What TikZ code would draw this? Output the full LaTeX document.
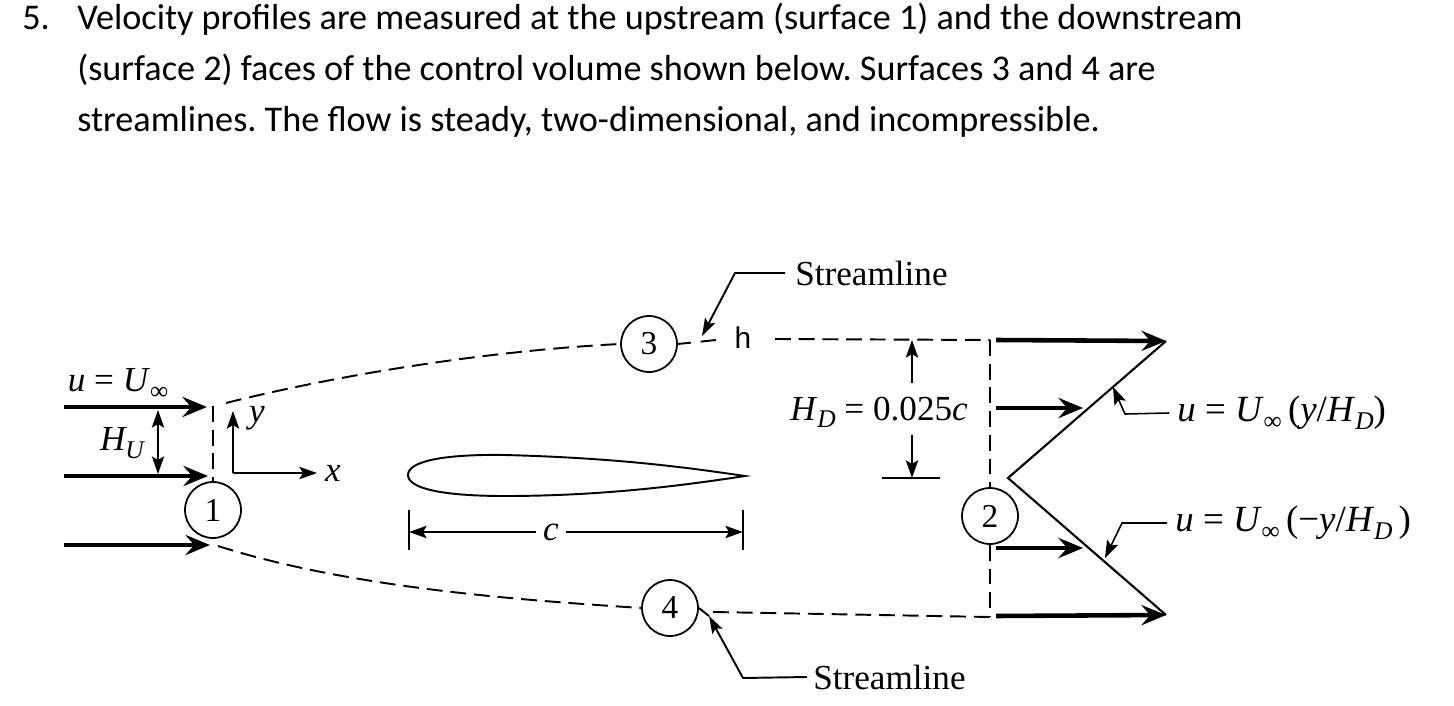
\documentclass[tikz,border=0pt]{standalone}
\usepackage{fontspec}
\setmainfont{Liberation Serif}
\newfontfamily\hd{Carlito}
\newfontfamily\hl{Liberation Sans}
\usetikzlibrary{arrows.meta}
\newcommand{\sbs}[1]{\raisebox{-0.45ex}{\fontsize{14.5}{16}\selectfont #1}}
\tikzset{
 x=0.02cm,y=-0.02cm,
 hdr/.style={anchor=base west,inner sep=0,font=\hd\frenchspacing\fontsize{20.6}{24}\selectfont},
 lab/.style={inner sep=0,font=\fontsize{20}{24}\selectfont},
 ilab/.style={inner sep=0,font=\itshape\fontsize{20}{24}\selectfont},
 flab/.style={inner sep=0,font=\fontsize{21}{24}\selectfont},
 num/.style={draw,circle,line width=1pt,minimum size=1.12cm,inner sep=0,font=\fontsize{19}{22}\selectfont,fill=white},
 thick arrow/.style={line width=2.6pt,-{Stealth[length=14pt,width=11.5pt,inset=5pt]}},
 mid arrow/.style={line width=2.2pt,-{Stealth[length=14pt,width=11.5pt,inset=5pt]}},
 thin arrow/.style={line width=1.1pt,-{Stealth[length=10pt,width=7pt,inset=2pt]}},
 dash line/.style={line width=1.1pt,dash pattern=on 9pt off 4.5pt},
 prof/.style={line width=1.2pt},
}
\begin{document}
\begin{tikzpicture}
\useasboundingbox (0,0) rectangle (1454,706);
\node[hdr] at (22,30) {5.};
\node[hdr] at (77,30) {Velocity profiles are measured at the upstream (surface 1) and the downstream};
\node[hdr] at (77,81) {(surface 2) faces of the control volume shown below. Surfaces 3 and 4 are};
\node[hdr] at (77,132) {streamlines. The flow is steady, two-dimensional, and incompressible.};
% numbered circles
\node[num] (n1) at (213,510) {1};
\node[num] (n2) at (990,516) {2};
\node[num] (n3) at (649,344) {3};
\node[num] (n4) at (670,608) {4};
% control points
\coordinate (c1t) at (213,406);
\coordinate (c1s) at (226,403);
\coordinate (c1b) at (218,546);
\coordinate (c2t) at (990,340);
\coordinate (c2b) at (990,617);
\coordinate (h1) at (775,339);
\coordinate (d4) at (713,612);
\coordinate (d3) at (716,340);
\coordinate (t3) at (702,336);
\coordinate (t4) at (709,616);
% control volume
\draw[dash line] (c1s) .. controls (350,372) and (500,350) .. (n3.west);
\draw[dash line] (c1b) .. controls (350,588) and (520,600) .. (n4.west);
\draw[line width=1.1pt,dash pattern=on 7.4pt off 5.6pt on 9pt off 1pt] (n3.east) -- (d3);
\draw[line width=1.1pt] (n4.east) -- (t4);
\draw[dash line] (d4) -- (c2b);
\draw[dash line] (h1) -- (c2t);
\draw[dash line] (c2t) -- (n2.north);
\draw[dash line] (n2.south) -- (c2b);
\draw[dash line] (c1t) -- (n1.north);
% inflow
\coordinate (a1) at (64,407); \coordinate (a2) at (64,476); \coordinate (a3) at (64,545);
\coordinate (a1e) at (207,407); \coordinate (a2e) at (208,476); \coordinate (a3e) at (210,545);
\draw[thick arrow] (a1) -- (a1e);
\draw[thick arrow] (a2) -- (a2e);
\draw[thick arrow] (a3) -- (a3e);
% HU
\coordinate (hu1) at (158,410); \coordinate (hu2) at (158,474);
\draw[line width=1.1pt,{Stealth[length=10pt,width=7pt,inset=2pt]}-{Stealth[length=10pt,width=7pt,inset=2pt]}] (hu1) -- (hu2);
\node[ilab] (hu) at (122,443) {H\sbs{U}};
\node[lab] (ulab) at (118,384) {\textit{u} = \textit{U}\sbs{∞}};
% axes
\coordinate (o) at (233,473); \coordinate (ay) at (233,411); \coordinate (ax) at (317,473);
\draw[thin arrow] (o) -- (ay);
\draw[thin arrow] (o) -- (ax);
\node[ilab] (ylab) at (257,418) {y};
\node[ilab] (xlab) at (333,473) {x};
% airfoil
\draw[line width=1.1pt] (745,476) .. controls (690,468) and (620,458) .. (505,455)
  .. controls (440,454) and (408,462) .. (408,475)
  .. controls (408,488) and (440,496) .. (505,496)
  .. controls (600,496) and (680,486) .. (745,476) -- cycle;
% chord
\coordinate (cl) at (409,532); \coordinate (cr) at (743,532);
\node[ilab,inner xsep=4pt] (clab) at (551,532) {c};
\draw[thin arrow] (clab) -- (cl);
\draw[thin arrow] (clab) -- (cr);
\draw[line width=1.1pt] (409,510) -- (409,550);
\draw[line width=1.1pt] (743,510) -- (743,550);
% streamline labels
\node[lab,anchor=west] (s3) at (795,273) {Streamline};
\node[lab,anchor=west] (s4) at (813,677) {Streamline};
\coordinate (k3) at (735,273);
\draw[line width=1.1pt,-{Stealth[length=10pt,width=6.5pt,inset=2pt]}] ([xshift=-0.2cm]s3.west) -- (k3) -- (t3);
\coordinate (k4) at (743,678);
\draw[line width=1.1pt,-{Stealth[length=10pt,width=6.5pt,inset=2pt]}] ([xshift=-0.12cm]s4.west) -- (k4) -- (t4);
\node[inner sep=0,font=\hl\fontsize{17}{20}\selectfont] (h) at (743,338) {h};
% HD
\node[lab,anchor=west] (hd) at (790,412) {\textit{H}\sbs{\textit{D}} = 0.025\textit{c}};
\coordinate (hdt) at (912,340); \coordinate (hdb) at (912,478);
\coordinate (hdtt) at (912,383); \coordinate (hdbt) at (912,435);
\draw[thin arrow] (hdtt) -- (hdt);
\draw[thin arrow] (hdbt) -- (hdb);
\coordinate (bl) at (882,478); \coordinate (br) at (940,478);
\draw[line width=1.1pt] (bl) -- (br);
% outflow
\coordinate (p1) at (1166,341); \coordinate (p2) at (1008,478); \coordinate (p3) at (1166,615);
\draw[prof] (p1) -- (p2) -- (p3);
\draw[thick arrow] (996,340) -- (p1);
\draw[mid arrow] (996,408) -- (1083,408);
\draw[mid arrow] (996,548) -- (1083,548);
\draw[thick arrow] (996,616) -- (p3);
% formulas
\node[flab,anchor=west] (f1) at (1177,413) {\textit{u} = \textit{U}\sbs{∞}\,(\textit{y}/\textit{H}\sbs{\textit{D}})};
\node[flab,anchor=west] (f2) at (1175,523) {\textit{u} = \textit{U}\sbs{∞}\,(−\textit{y}/\textit{H}\sbs{\textit{D}}\,)};
\coordinate (k1) at (1125,414); \coordinate (t1) at (1113,387);
\draw[line width=0.9pt,-{Stealth[length=10pt,width=7pt,inset=2pt]}] ([xshift=-0.16cm]f1.west) -- (k1) -- (t1);
\coordinate (k2) at (1122,523); \coordinate (t2) at (1105,558);
\draw[line width=0.9pt,-{Stealth[length=10pt,width=7pt,inset=2pt]}] ([xshift=-0.16cm]f2.west) -- (k2) -- (t2);
\end{tikzpicture}
\end{document}
